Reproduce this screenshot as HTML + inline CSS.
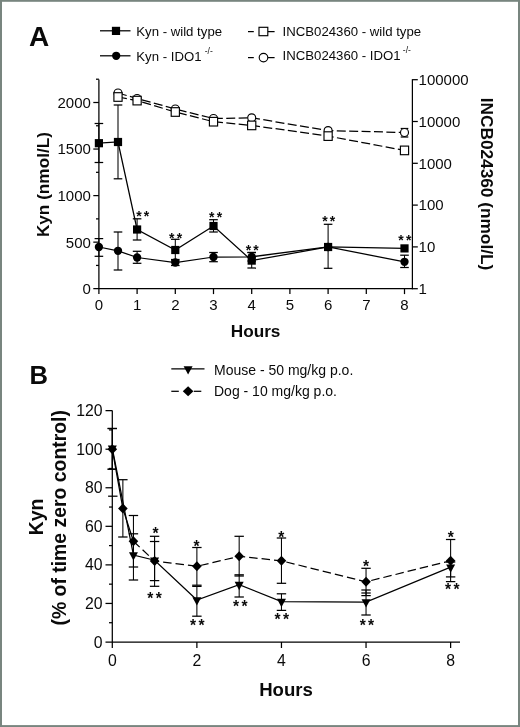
<!DOCTYPE html>
<html lang="en">
<head>
<meta charset="utf-8">
<title>Figure</title>
<style>
html,body{margin:0;padding:0;background:#fff;}
body{width:520px;height:727px;overflow:hidden;position:relative;}
svg{position:absolute;left:0;top:0;display:block;}
svg text{font-family:"Liberation Sans", sans-serif;fill:#0a0a0a;}
</style>
</head>
<body>
<svg width="520" height="727" viewBox="0 0 520 727">
<rect x="0" y="0" width="520" height="727" fill="#fff"/>
<g id="panelA">
<text x="29.00" y="45.70" font-size="28" text-anchor="start" font-weight="bold" >A</text>
<line x1="100.00" y1="30.80" x2="130.50" y2="30.80" stroke="#000" stroke-width="1.25" />
<rect x="111.90" y="26.80" width="8.2" height="8.2" fill="#000"/>
<text x="136.30" y="36.00" font-size="13.2" text-anchor="start" >Kyn - wild type</text>
<line x1="100.00" y1="55.80" x2="130.50" y2="55.80" stroke="#000" stroke-width="1.25" />
<circle cx="116.20" cy="55.80" r="4.15" fill="#000"/>
<text x="136.30" y="60.70" font-size="13.2" text-anchor="start" >Kyn - IDO1<tspan font-size="8.5" dy="-6.6" dx="3.2">-/-</tspan></text>
<line x1="248.00" y1="31.60" x2="253.80" y2="31.60" stroke="#000" stroke-width="1.25" />
<line x1="267.90" y1="31.60" x2="274.60" y2="31.60" stroke="#000" stroke-width="1.25" />
<rect x="259.00" y="27.30" width="8.8" height="8.4" fill="#fff" stroke="#000" stroke-width="1.15"/>
<text x="282.60" y="35.50" font-size="13.2" text-anchor="start" >INCB024360 - wild type</text>
<line x1="248.00" y1="57.60" x2="253.80" y2="57.60" stroke="#000" stroke-width="1.25" />
<line x1="267.90" y1="57.60" x2="274.60" y2="57.60" stroke="#000" stroke-width="1.25" />
<circle cx="263.50" cy="57.60" r="4.3" fill="#fff" stroke="#000" stroke-width="1.15"/>
<text x="282.60" y="59.80" font-size="13.2" text-anchor="start" >INCB024360 - IDO1<tspan font-size="8.5" dy="-6.8" dx="2.2">-/-</tspan></text>
<line x1="98.90" y1="79.50" x2="98.90" y2="294.10" stroke="#000" stroke-width="1.25" />
<line x1="93.30" y1="288.70" x2="412.40" y2="288.70" stroke="#000" stroke-width="1.25" />
<line x1="412.40" y1="79.17" x2="412.40" y2="289.32" stroke="#000" stroke-width="1.25" />
<text x="90.90" y="294.05" font-size="15" text-anchor="end" >0</text>
<line x1="93.30" y1="242.15" x2="98.90" y2="242.15" stroke="#000" stroke-width="1.25" />
<text x="90.90" y="247.50" font-size="15" text-anchor="end" >500</text>
<line x1="93.30" y1="195.60" x2="98.90" y2="195.60" stroke="#000" stroke-width="1.25" />
<text x="90.90" y="200.95" font-size="15" text-anchor="end" >1000</text>
<line x1="93.30" y1="149.05" x2="98.90" y2="149.05" stroke="#000" stroke-width="1.25" />
<text x="90.90" y="154.40" font-size="15" text-anchor="end" >1500</text>
<line x1="93.30" y1="102.50" x2="98.90" y2="102.50" stroke="#000" stroke-width="1.25" />
<text x="90.90" y="107.85" font-size="15" text-anchor="end" >2000</text>
<line x1="96.00" y1="265.43" x2="98.90" y2="265.43" stroke="#000" stroke-width="1.25" />
<line x1="96.00" y1="218.88" x2="98.90" y2="218.88" stroke="#000" stroke-width="1.25" />
<line x1="96.00" y1="172.32" x2="98.90" y2="172.32" stroke="#000" stroke-width="1.25" />
<line x1="96.00" y1="125.77" x2="98.90" y2="125.77" stroke="#000" stroke-width="1.25" />
<line x1="96.00" y1="79.22" x2="98.90" y2="79.22" stroke="#000" stroke-width="1.25" />
<text x="98.90" y="309.80" font-size="15" text-anchor="middle" >0</text>
<line x1="137.10" y1="288.70" x2="137.10" y2="294.10" stroke="#000" stroke-width="1.25" />
<text x="137.10" y="309.80" font-size="15" text-anchor="middle" >1</text>
<line x1="175.30" y1="288.70" x2="175.30" y2="294.10" stroke="#000" stroke-width="1.25" />
<text x="175.30" y="309.80" font-size="15" text-anchor="middle" >2</text>
<line x1="213.50" y1="288.70" x2="213.50" y2="294.10" stroke="#000" stroke-width="1.25" />
<text x="213.50" y="309.80" font-size="15" text-anchor="middle" >3</text>
<line x1="251.70" y1="288.70" x2="251.70" y2="294.10" stroke="#000" stroke-width="1.25" />
<text x="251.70" y="309.80" font-size="15" text-anchor="middle" >4</text>
<line x1="289.90" y1="288.70" x2="289.90" y2="294.10" stroke="#000" stroke-width="1.25" />
<text x="289.90" y="309.80" font-size="15" text-anchor="middle" >5</text>
<line x1="328.10" y1="288.70" x2="328.10" y2="294.10" stroke="#000" stroke-width="1.25" />
<text x="328.10" y="309.80" font-size="15" text-anchor="middle" >6</text>
<line x1="366.30" y1="288.70" x2="366.30" y2="294.10" stroke="#000" stroke-width="1.25" />
<text x="366.30" y="309.80" font-size="15" text-anchor="middle" >7</text>
<line x1="404.50" y1="288.70" x2="404.50" y2="294.10" stroke="#000" stroke-width="1.25" />
<text x="404.50" y="309.80" font-size="15" text-anchor="middle" >8</text>
<line x1="412.40" y1="288.70" x2="417.80" y2="288.70" stroke="#000" stroke-width="1.25" />
<text x="418.60" y="294.05" font-size="15" text-anchor="start" >1</text>
<line x1="412.40" y1="246.90" x2="417.80" y2="246.90" stroke="#000" stroke-width="1.25" />
<text x="418.60" y="252.25" font-size="15" text-anchor="start" >10</text>
<line x1="412.40" y1="205.10" x2="417.80" y2="205.10" stroke="#000" stroke-width="1.25" />
<text x="418.60" y="210.45" font-size="15" text-anchor="start" >100</text>
<line x1="412.40" y1="163.30" x2="417.80" y2="163.30" stroke="#000" stroke-width="1.25" />
<text x="418.60" y="168.65" font-size="15" text-anchor="start" >1000</text>
<line x1="412.40" y1="121.50" x2="417.80" y2="121.50" stroke="#000" stroke-width="1.25" />
<text x="418.60" y="126.85" font-size="15" text-anchor="start" >10000</text>
<line x1="412.40" y1="79.70" x2="417.80" y2="79.70" stroke="#000" stroke-width="1.25" />
<text x="418.60" y="85.05" font-size="15" text-anchor="start" >100000</text>
<text x="255.60" y="337.00" font-size="17.2" text-anchor="middle" font-weight="bold" >Hours</text>
<text transform="translate(49.0,184.6) rotate(-90)" font-size="17.2" font-weight="bold" text-anchor="middle">Kyn (nmol/L)</text>
<text transform="translate(480.7,184.0) rotate(90)" font-size="17.25" font-weight="bold" text-anchor="middle">INCB024360 (nmol/L)</text>
<line x1="98.90" y1="123.50" x2="98.90" y2="162.50" stroke="#000" stroke-width="1.05" />
<line x1="94.60" y1="123.50" x2="103.20" y2="123.50" stroke="#000" stroke-width="1.25" />
<line x1="94.60" y1="162.50" x2="103.20" y2="162.50" stroke="#000" stroke-width="1.25" />
<line x1="118.00" y1="105.00" x2="118.00" y2="178.80" stroke="#000" stroke-width="1.05" />
<line x1="113.70" y1="105.00" x2="122.30" y2="105.00" stroke="#000" stroke-width="1.25" />
<line x1="113.70" y1="178.80" x2="122.30" y2="178.80" stroke="#000" stroke-width="1.25" />
<line x1="137.10" y1="218.80" x2="137.10" y2="240.00" stroke="#000" stroke-width="1.05" />
<line x1="132.80" y1="218.80" x2="141.40" y2="218.80" stroke="#000" stroke-width="1.25" />
<line x1="132.80" y1="240.00" x2="141.40" y2="240.00" stroke="#000" stroke-width="1.25" />
<line x1="175.30" y1="239.30" x2="175.30" y2="260.80" stroke="#000" stroke-width="1.05" />
<line x1="171.00" y1="239.30" x2="179.60" y2="239.30" stroke="#000" stroke-width="1.25" />
<line x1="171.00" y1="260.80" x2="179.60" y2="260.80" stroke="#000" stroke-width="1.25" />
<line x1="213.50" y1="219.70" x2="213.50" y2="232.00" stroke="#000" stroke-width="1.05" />
<line x1="209.20" y1="219.70" x2="217.80" y2="219.70" stroke="#000" stroke-width="1.25" />
<line x1="209.20" y1="232.00" x2="217.80" y2="232.00" stroke="#000" stroke-width="1.25" />
<line x1="251.70" y1="252.60" x2="251.70" y2="268.00" stroke="#000" stroke-width="1.05" />
<line x1="247.40" y1="252.60" x2="256.00" y2="252.60" stroke="#000" stroke-width="1.25" />
<line x1="247.40" y1="268.00" x2="256.00" y2="268.00" stroke="#000" stroke-width="1.25" />
<line x1="328.10" y1="224.30" x2="328.10" y2="268.30" stroke="#000" stroke-width="1.05" />
<line x1="323.80" y1="224.30" x2="332.40" y2="224.30" stroke="#000" stroke-width="1.25" />
<line x1="323.80" y1="268.30" x2="332.40" y2="268.30" stroke="#000" stroke-width="1.25" />
<line x1="98.90" y1="238.60" x2="98.90" y2="256.30" stroke="#000" stroke-width="1.05" />
<line x1="94.60" y1="238.60" x2="103.20" y2="238.60" stroke="#000" stroke-width="1.25" />
<line x1="94.60" y1="256.30" x2="103.20" y2="256.30" stroke="#000" stroke-width="1.25" />
<line x1="118.00" y1="232.00" x2="118.00" y2="270.00" stroke="#000" stroke-width="1.05" />
<line x1="113.70" y1="232.00" x2="122.30" y2="232.00" stroke="#000" stroke-width="1.25" />
<line x1="113.70" y1="270.00" x2="122.30" y2="270.00" stroke="#000" stroke-width="1.25" />
<line x1="137.10" y1="251.30" x2="137.10" y2="263.30" stroke="#000" stroke-width="1.05" />
<line x1="132.80" y1="251.30" x2="141.40" y2="251.30" stroke="#000" stroke-width="1.25" />
<line x1="132.80" y1="263.30" x2="141.40" y2="263.30" stroke="#000" stroke-width="1.25" />
<line x1="175.30" y1="259.50" x2="175.30" y2="265.50" stroke="#000" stroke-width="1.05" />
<line x1="171.00" y1="259.50" x2="179.60" y2="259.50" stroke="#000" stroke-width="1.25" />
<line x1="171.00" y1="265.50" x2="179.60" y2="265.50" stroke="#000" stroke-width="1.25" />
<line x1="213.50" y1="252.50" x2="213.50" y2="261.70" stroke="#000" stroke-width="1.05" />
<line x1="209.20" y1="252.50" x2="217.80" y2="252.50" stroke="#000" stroke-width="1.25" />
<line x1="209.20" y1="261.70" x2="217.80" y2="261.70" stroke="#000" stroke-width="1.25" />
<line x1="251.70" y1="252.40" x2="251.70" y2="261.00" stroke="#000" stroke-width="1.05" />
<line x1="247.40" y1="252.40" x2="256.00" y2="252.40" stroke="#000" stroke-width="1.25" />
<line x1="247.40" y1="261.00" x2="256.00" y2="261.00" stroke="#000" stroke-width="1.25" />
<line x1="404.50" y1="255.20" x2="404.50" y2="267.50" stroke="#000" stroke-width="1.05" />
<line x1="400.20" y1="255.20" x2="408.80" y2="255.20" stroke="#000" stroke-width="1.25" />
<line x1="400.20" y1="267.50" x2="408.80" y2="267.50" stroke="#000" stroke-width="1.25" />
<line x1="404.50" y1="128.50" x2="404.50" y2="137.00" stroke="#000" stroke-width="1.05" />
<line x1="400.70" y1="128.50" x2="408.30" y2="128.50" stroke="#000" stroke-width="1.25" />
<line x1="400.70" y1="137.00" x2="408.30" y2="137.00" stroke="#000" stroke-width="1.25" />
<polyline points="118.00,93.00 137.10,98.50 175.30,109.00 213.50,118.50 251.70,117.80 328.10,130.60 404.50,132.50" fill="none" stroke="#000" stroke-width="1.25" stroke-dasharray="9 3.4"/>
<polyline points="118.00,97.00 137.10,100.60 175.30,112.00 213.50,121.70 251.70,125.40 328.10,136.10 404.50,150.40" fill="none" stroke="#000" stroke-width="1.25" stroke-dasharray="9 3.4"/>
<polyline points="98.90,247.00 118.00,250.80 137.10,257.50 175.30,262.50 213.50,257.00 251.70,256.80 328.10,247.00 404.50,261.80" fill="none" stroke="#000" stroke-width="1.25"/>
<polyline points="98.90,143.20 118.00,142.00 137.10,229.50 175.30,250.00 213.50,226.00 251.70,260.60 328.10,247.00 404.50,248.40" fill="none" stroke="#000" stroke-width="1.25"/>
<circle cx="118.00" cy="93.00" r="4.0" fill="#fff" stroke="#000" stroke-width="1.15"/>
<circle cx="137.10" cy="98.50" r="4.0" fill="#fff" stroke="#000" stroke-width="1.15"/>
<circle cx="175.30" cy="109.00" r="4.0" fill="#fff" stroke="#000" stroke-width="1.15"/>
<circle cx="213.50" cy="118.50" r="4.0" fill="#fff" stroke="#000" stroke-width="1.15"/>
<circle cx="251.70" cy="117.80" r="4.0" fill="#fff" stroke="#000" stroke-width="1.15"/>
<circle cx="328.10" cy="130.60" r="4.0" fill="#fff" stroke="#000" stroke-width="1.15"/>
<circle cx="404.50" cy="132.50" r="4.0" fill="#fff" stroke="#000" stroke-width="1.15"/>
<rect x="113.90" y="92.70" width="8.2" height="8.6" fill="#fff" stroke="#000" stroke-width="1.15"/>
<rect x="133.00" y="96.30" width="8.2" height="8.6" fill="#fff" stroke="#000" stroke-width="1.15"/>
<rect x="171.20" y="107.70" width="8.2" height="8.6" fill="#fff" stroke="#000" stroke-width="1.15"/>
<rect x="209.40" y="117.40" width="8.2" height="8.6" fill="#fff" stroke="#000" stroke-width="1.15"/>
<rect x="247.60" y="121.10" width="8.2" height="8.6" fill="#fff" stroke="#000" stroke-width="1.15"/>
<rect x="324.00" y="131.80" width="8.2" height="8.6" fill="#fff" stroke="#000" stroke-width="1.15"/>
<rect x="400.40" y="146.10" width="8.2" height="8.6" fill="#fff" stroke="#000" stroke-width="1.15"/>
<circle cx="98.90" cy="247.00" r="4.15" fill="#000"/>
<circle cx="118.00" cy="250.80" r="4.15" fill="#000"/>
<circle cx="137.10" cy="257.50" r="4.15" fill="#000"/>
<circle cx="175.30" cy="262.50" r="4.15" fill="#000"/>
<circle cx="213.50" cy="257.00" r="4.15" fill="#000"/>
<circle cx="251.70" cy="256.80" r="4.15" fill="#000"/>
<circle cx="328.10" cy="247.00" r="4.15" fill="#000"/>
<circle cx="404.50" cy="261.80" r="4.15" fill="#000"/>
<rect x="94.80" y="139.10" width="8.2" height="8.2" fill="#000"/>
<rect x="113.90" y="137.90" width="8.2" height="8.2" fill="#000"/>
<rect x="133.00" y="225.40" width="8.2" height="8.2" fill="#000"/>
<rect x="171.20" y="245.90" width="8.2" height="8.2" fill="#000"/>
<rect x="209.40" y="221.90" width="8.2" height="8.2" fill="#000"/>
<rect x="247.60" y="256.50" width="8.2" height="8.2" fill="#000"/>
<rect x="324.00" y="242.90" width="8.2" height="8.2" fill="#000"/>
<rect x="400.40" y="244.30" width="8.2" height="8.2" fill="#000"/>
<text x="143.80" y="220.93" font-size="14" text-anchor="middle" font-weight="bold" letter-spacing="2.2">**</text>
<text x="176.70" y="242.83" font-size="14" text-anchor="middle" font-weight="bold" letter-spacing="2.2">**</text>
<text x="216.70" y="222.23" font-size="14" text-anchor="middle" font-weight="bold" letter-spacing="2.2">**</text>
<text x="253.30" y="255.03" font-size="14" text-anchor="middle" font-weight="bold" letter-spacing="2.2">**</text>
<text x="329.80" y="225.93" font-size="14" text-anchor="middle" font-weight="bold" letter-spacing="2.2">**</text>
<text x="406.00" y="244.83" font-size="14" text-anchor="middle" font-weight="bold" letter-spacing="2.2">**</text>
</g>
<g id="panelB">
<text x="29.50" y="384.30" font-size="25.6" text-anchor="start" font-weight="bold" >B</text>
<line x1="171.30" y1="368.80" x2="204.50" y2="368.80" stroke="#000" stroke-width="1.25" />
<polygon points="183.60,366.20 192.60,366.20 188.10,374.60" fill="#000"/>
<text x="214.00" y="374.50" font-size="14.0" text-anchor="start" >Mouse - 50 mg/kg p.o.</text>
<line x1="171.30" y1="391.30" x2="178.80" y2="391.30" stroke="#000" stroke-width="1.25" />
<line x1="193.80" y1="391.30" x2="201.30" y2="391.30" stroke="#000" stroke-width="1.25" />
<polygon points="188.10,386.30 193.40,391.30 188.10,396.30 182.80,391.30" fill="#000"/>
<text x="214.00" y="395.80" font-size="14.0" text-anchor="start" >Dog - 10 mg/kg p.o.</text>
<line x1="112.30" y1="410.60" x2="112.30" y2="648.00" stroke="#000" stroke-width="1.25" />
<line x1="105.50" y1="642.00" x2="460.00" y2="642.00" stroke="#000" stroke-width="1.25" />
<text x="102.60" y="647.60" font-size="15.8" text-anchor="end" >0</text>
<line x1="105.50" y1="603.44" x2="112.30" y2="603.44" stroke="#000" stroke-width="1.25" />
<text x="102.60" y="609.04" font-size="15.8" text-anchor="end" >20</text>
<line x1="105.50" y1="564.88" x2="112.30" y2="564.88" stroke="#000" stroke-width="1.25" />
<text x="102.60" y="570.48" font-size="15.8" text-anchor="end" >40</text>
<line x1="105.50" y1="526.32" x2="112.30" y2="526.32" stroke="#000" stroke-width="1.25" />
<text x="102.60" y="531.92" font-size="15.8" text-anchor="end" >60</text>
<line x1="105.50" y1="487.76" x2="112.30" y2="487.76" stroke="#000" stroke-width="1.25" />
<text x="102.60" y="493.36" font-size="15.8" text-anchor="end" >80</text>
<line x1="105.50" y1="449.20" x2="112.30" y2="449.20" stroke="#000" stroke-width="1.25" />
<text x="102.60" y="454.80" font-size="15.8" text-anchor="end" >100</text>
<line x1="105.50" y1="410.64" x2="112.30" y2="410.64" stroke="#000" stroke-width="1.25" />
<text x="102.60" y="416.24" font-size="15.8" text-anchor="end" >120</text>
<line x1="109.00" y1="622.72" x2="112.30" y2="622.72" stroke="#000" stroke-width="1.25" />
<line x1="109.00" y1="584.16" x2="112.30" y2="584.16" stroke="#000" stroke-width="1.25" />
<line x1="109.00" y1="545.60" x2="112.30" y2="545.60" stroke="#000" stroke-width="1.25" />
<line x1="109.00" y1="507.04" x2="112.30" y2="507.04" stroke="#000" stroke-width="1.25" />
<line x1="109.00" y1="468.48" x2="112.30" y2="468.48" stroke="#000" stroke-width="1.25" />
<line x1="109.00" y1="429.92" x2="112.30" y2="429.92" stroke="#000" stroke-width="1.25" />
<text x="112.30" y="665.60" font-size="15.8" text-anchor="middle" >0</text>
<line x1="196.88" y1="642.00" x2="196.88" y2="648.00" stroke="#000" stroke-width="1.25" />
<text x="196.88" y="665.60" font-size="15.8" text-anchor="middle" >2</text>
<line x1="281.46" y1="642.00" x2="281.46" y2="648.00" stroke="#000" stroke-width="1.25" />
<text x="281.46" y="665.60" font-size="15.8" text-anchor="middle" >4</text>
<line x1="366.04" y1="642.00" x2="366.04" y2="648.00" stroke="#000" stroke-width="1.25" />
<text x="366.04" y="665.60" font-size="15.8" text-anchor="middle" >6</text>
<line x1="450.62" y1="642.00" x2="450.62" y2="648.00" stroke="#000" stroke-width="1.25" />
<text x="450.62" y="665.60" font-size="15.8" text-anchor="middle" >8</text>
<text x="286.00" y="695.50" font-size="18.6" text-anchor="middle" font-weight="bold" >Hours</text>
<text transform="translate(42.8,517.0) rotate(-90)" font-size="19.4" font-weight="bold" text-anchor="middle">Kyn</text>
<text transform="translate(65.6,517.8) rotate(-90)" font-size="19.4" font-weight="bold" text-anchor="middle">(% of time zero control)</text>
<line x1="112.30" y1="428.50" x2="112.30" y2="469.20" stroke="#000" stroke-width="1.05" />
<line x1="107.60" y1="428.50" x2="117.00" y2="428.50" stroke="#000" stroke-width="1.25" />
<line x1="107.60" y1="469.20" x2="117.00" y2="469.20" stroke="#000" stroke-width="1.25" />
<line x1="133.44" y1="533.80" x2="133.44" y2="580.00" stroke="#000" stroke-width="1.05" />
<line x1="128.75" y1="533.80" x2="138.14" y2="533.80" stroke="#000" stroke-width="1.25" />
<line x1="128.75" y1="580.00" x2="138.14" y2="580.00" stroke="#000" stroke-width="1.25" />
<line x1="154.59" y1="541.50" x2="154.59" y2="580.60" stroke="#000" stroke-width="1.05" />
<line x1="149.89" y1="541.50" x2="159.29" y2="541.50" stroke="#000" stroke-width="1.25" />
<line x1="149.89" y1="580.60" x2="159.29" y2="580.60" stroke="#000" stroke-width="1.25" />
<line x1="196.88" y1="586.40" x2="196.88" y2="616.20" stroke="#000" stroke-width="1.05" />
<line x1="192.18" y1="586.40" x2="201.58" y2="586.40" stroke="#000" stroke-width="1.25" />
<line x1="192.18" y1="616.20" x2="201.58" y2="616.20" stroke="#000" stroke-width="1.25" />
<line x1="239.17" y1="574.80" x2="239.17" y2="597.00" stroke="#000" stroke-width="1.05" />
<line x1="234.47" y1="574.80" x2="243.87" y2="574.80" stroke="#000" stroke-width="1.25" />
<line x1="234.47" y1="597.00" x2="243.87" y2="597.00" stroke="#000" stroke-width="1.25" />
<line x1="281.46" y1="593.80" x2="281.46" y2="610.40" stroke="#000" stroke-width="1.05" />
<line x1="276.76" y1="593.80" x2="286.16" y2="593.80" stroke="#000" stroke-width="1.25" />
<line x1="276.76" y1="610.40" x2="286.16" y2="610.40" stroke="#000" stroke-width="1.25" />
<line x1="366.04" y1="590.00" x2="366.04" y2="615.00" stroke="#000" stroke-width="1.05" />
<line x1="361.34" y1="590.00" x2="370.74" y2="590.00" stroke="#000" stroke-width="1.25" />
<line x1="361.34" y1="615.00" x2="370.74" y2="615.00" stroke="#000" stroke-width="1.25" />
<line x1="450.62" y1="562.00" x2="450.62" y2="576.90" stroke="#000" stroke-width="1.05" />
<line x1="445.92" y1="562.00" x2="455.32" y2="562.00" stroke="#000" stroke-width="1.25" />
<line x1="445.92" y1="576.90" x2="455.32" y2="576.90" stroke="#000" stroke-width="1.25" />
<line x1="112.30" y1="428.50" x2="112.30" y2="469.20" stroke="#000" stroke-width="1.05" />
<line x1="107.60" y1="428.50" x2="117.00" y2="428.50" stroke="#000" stroke-width="1.25" />
<line x1="107.60" y1="469.20" x2="117.00" y2="469.20" stroke="#000" stroke-width="1.25" />
<line x1="122.87" y1="479.70" x2="122.87" y2="537.00" stroke="#000" stroke-width="1.05" />
<line x1="118.17" y1="479.70" x2="127.57" y2="479.70" stroke="#000" stroke-width="1.25" />
<line x1="118.17" y1="537.00" x2="127.57" y2="537.00" stroke="#000" stroke-width="1.25" />
<line x1="133.44" y1="515.50" x2="133.44" y2="567.00" stroke="#000" stroke-width="1.05" />
<line x1="128.75" y1="515.50" x2="138.14" y2="515.50" stroke="#000" stroke-width="1.25" />
<line x1="128.75" y1="567.00" x2="138.14" y2="567.00" stroke="#000" stroke-width="1.25" />
<line x1="154.59" y1="536.30" x2="154.59" y2="586.30" stroke="#000" stroke-width="1.05" />
<line x1="149.89" y1="536.30" x2="159.29" y2="536.30" stroke="#000" stroke-width="1.25" />
<line x1="149.89" y1="586.30" x2="159.29" y2="586.30" stroke="#000" stroke-width="1.25" />
<line x1="196.88" y1="547.50" x2="196.88" y2="585.20" stroke="#000" stroke-width="1.05" />
<line x1="192.18" y1="547.50" x2="201.58" y2="547.50" stroke="#000" stroke-width="1.25" />
<line x1="192.18" y1="585.20" x2="201.58" y2="585.20" stroke="#000" stroke-width="1.25" />
<line x1="239.17" y1="536.30" x2="239.17" y2="576.00" stroke="#000" stroke-width="1.05" />
<line x1="234.47" y1="536.30" x2="243.87" y2="536.30" stroke="#000" stroke-width="1.25" />
<line x1="234.47" y1="576.00" x2="243.87" y2="576.00" stroke="#000" stroke-width="1.25" />
<line x1="281.46" y1="538.00" x2="281.46" y2="583.30" stroke="#000" stroke-width="1.05" />
<line x1="276.76" y1="538.00" x2="286.16" y2="538.00" stroke="#000" stroke-width="1.25" />
<line x1="276.76" y1="583.30" x2="286.16" y2="583.30" stroke="#000" stroke-width="1.25" />
<line x1="366.04" y1="568.30" x2="366.04" y2="595.60" stroke="#000" stroke-width="1.05" />
<line x1="361.34" y1="568.30" x2="370.74" y2="568.30" stroke="#000" stroke-width="1.25" />
<line x1="361.34" y1="595.60" x2="370.74" y2="595.60" stroke="#000" stroke-width="1.25" />
<line x1="450.62" y1="539.50" x2="450.62" y2="581.60" stroke="#000" stroke-width="1.05" />
<line x1="445.92" y1="539.50" x2="455.32" y2="539.50" stroke="#000" stroke-width="1.25" />
<line x1="445.92" y1="581.60" x2="455.32" y2="581.60" stroke="#000" stroke-width="1.25" />
<line x1="108.10" y1="496.20" x2="117.50" y2="496.20" stroke="#000" stroke-width="1.25" />
<line x1="361.34" y1="593.00" x2="370.74" y2="593.00" stroke="#000" stroke-width="1.25" />
<polyline points="112.30,449.30 122.87,508.60 133.44,541.30" fill="none" stroke="#000" stroke-width="1.25"/>
<polyline points="133.44,541.30 154.59,561.00 196.88,566.30 239.17,556.30 281.46,560.80 366.04,581.80 450.62,560.80" fill="none" stroke="#000" stroke-width="1.25" stroke-dasharray="8.5 4"/>
<polyline points="112.30,448.40 133.44,555.00 154.59,560.20 196.88,600.00 239.17,584.60 281.46,601.60 366.04,602.00 450.62,567.20" fill="none" stroke="#000" stroke-width="1.25"/>
<polygon points="112.30,444.30 117.10,449.30 112.30,454.30 107.50,449.30" fill="#000"/>
<polygon points="122.87,503.60 127.67,508.60 122.87,513.60 118.07,508.60" fill="#000"/>
<polygon points="133.44,536.30 138.25,541.30 133.44,546.30 128.64,541.30" fill="#000"/>
<polygon points="154.59,556.00 159.39,561.00 154.59,566.00 149.79,561.00" fill="#000"/>
<polygon points="196.88,561.30 201.68,566.30 196.88,571.30 192.08,566.30" fill="#000"/>
<polygon points="239.17,551.30 243.97,556.30 239.17,561.30 234.37,556.30" fill="#000"/>
<polygon points="281.46,555.80 286.26,560.80 281.46,565.80 276.66,560.80" fill="#000"/>
<polygon points="366.04,576.80 370.84,581.80 366.04,586.80 361.24,581.80" fill="#000"/>
<polygon points="450.62,555.80 455.42,560.80 450.62,565.80 445.82,560.80" fill="#000"/>
<polygon points="107.80,445.60 116.80,445.60 112.30,454.00" fill="#000"/>
<polygon points="128.94,552.20 137.94,552.20 133.44,560.60" fill="#000"/>
<polygon points="150.09,557.40 159.09,557.40 154.59,565.80" fill="#000"/>
<polygon points="192.38,597.20 201.38,597.20 196.88,605.60" fill="#000"/>
<polygon points="234.67,581.80 243.67,581.80 239.17,590.20" fill="#000"/>
<polygon points="276.96,598.80 285.96,598.80 281.46,607.20" fill="#000"/>
<polygon points="361.54,599.20 370.54,599.20 366.04,607.60" fill="#000"/>
<polygon points="446.12,564.40 455.12,564.40 450.62,572.80" fill="#000"/>
<text x="155.60" y="539.33" font-size="15.6" text-anchor="middle" font-weight="bold" >*</text>
<text x="196.60" y="552.13" font-size="15.6" text-anchor="middle" font-weight="bold" >*</text>
<text x="281.30" y="542.73" font-size="15.6" text-anchor="middle" font-weight="bold" >*</text>
<text x="366.10" y="571.63" font-size="15.6" text-anchor="middle" font-weight="bold" >*</text>
<text x="450.80" y="542.93" font-size="15.6" text-anchor="middle" font-weight="bold" >*</text>
<text x="155.80" y="604.13" font-size="15.6" text-anchor="middle" font-weight="bold" letter-spacing="2.4">**</text>
<text x="198.50" y="630.63" font-size="15.6" text-anchor="middle" font-weight="bold" letter-spacing="2.4">**</text>
<text x="241.50" y="611.73" font-size="15.6" text-anchor="middle" font-weight="bold" letter-spacing="2.4">**</text>
<text x="282.90" y="625.03" font-size="15.6" text-anchor="middle" font-weight="bold" letter-spacing="2.4">**</text>
<text x="368.10" y="630.93" font-size="15.6" text-anchor="middle" font-weight="bold" letter-spacing="2.4">**</text>
<text x="453.50" y="594.73" font-size="15.6" text-anchor="middle" font-weight="bold" letter-spacing="2.4">**</text>
</g>
<g fill="#78857f">
<rect x="0" y="0" width="520" height="1.8"/>
<rect x="0" y="725.1" width="520" height="1.9"/>
<rect x="0" y="0" width="2" height="727"/>
<rect x="518" y="0" width="2" height="727"/>
</g>
</svg>
</body>
</html>
